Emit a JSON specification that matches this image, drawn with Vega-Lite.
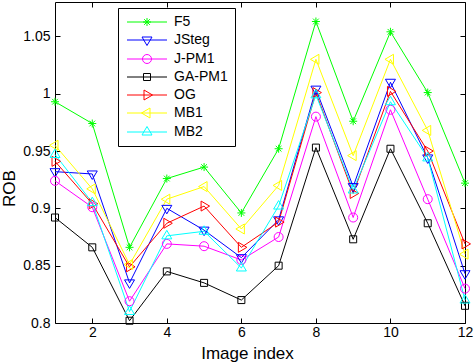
{
  "$schema": "https://vega.github.io/schema/vega-lite/v6.json",
  "width": 410,
  "height": 321,
  "autosize": "none",
  "padding": {"left": 55, "top": 2, "right": 9, "bottom": 39},
  "background": "white",
  "data": {"values": [
    {"x":1,"series":"F5","rob":0.993},{"x":2,"series":"F5","rob":0.974},{"x":3,"series":"F5","rob":0.866},{"x":4,"series":"F5","rob":0.926},{"x":5,"series":"F5","rob":0.936},{"x":6,"series":"F5","rob":0.896},{"x":7,"series":"F5","rob":0.952},{"x":8,"series":"F5","rob":1.063},{"x":9,"series":"F5","rob":0.976},{"x":10,"series":"F5","rob":1.054},{"x":11,"series":"F5","rob":1.001},{"x":12,"series":"F5","rob":0.922},
    {"x":1,"series":"JSteg","rob":0.932},{"x":2,"series":"JSteg","rob":0.930},{"x":3,"series":"JSteg","rob":0.835},{"x":4,"series":"JSteg","rob":0.900},{"x":5,"series":"JSteg","rob":0.881},{"x":6,"series":"JSteg","rob":0.857},{"x":7,"series":"JSteg","rob":0.890},{"x":8,"series":"JSteg","rob":1.004},{"x":9,"series":"JSteg","rob":0.919},{"x":10,"series":"JSteg","rob":1.010},{"x":11,"series":"JSteg","rob":0.944},{"x":12,"series":"JSteg","rob":0.843},
    {"x":1,"series":"J-PM1","rob":0.924},{"x":2,"series":"J-PM1","rob":0.901},{"x":3,"series":"J-PM1","rob":0.819},{"x":4,"series":"J-PM1","rob":0.869},{"x":5,"series":"J-PM1","rob":0.867},{"x":6,"series":"J-PM1","rob":0.855},{"x":7,"series":"J-PM1","rob":0.875},{"x":8,"series":"J-PM1","rob":0.980},{"x":9,"series":"J-PM1","rob":0.892},{"x":10,"series":"J-PM1","rob":0.986},{"x":11,"series":"J-PM1","rob":0.908},{"x":12,"series":"J-PM1","rob":0.830},
    {"x":1,"series":"GA-PM1","rob":0.892},{"x":2,"series":"GA-PM1","rob":0.866},{"x":3,"series":"GA-PM1","rob":0.802},{"x":4,"series":"GA-PM1","rob":0.845},{"x":5,"series":"GA-PM1","rob":0.835},{"x":6,"series":"GA-PM1","rob":0.820},{"x":7,"series":"GA-PM1","rob":0.850},{"x":8,"series":"GA-PM1","rob":0.953},{"x":9,"series":"GA-PM1","rob":0.873},{"x":10,"series":"GA-PM1","rob":0.952},{"x":11,"series":"GA-PM1","rob":0.887},{"x":12,"series":"GA-PM1","rob":0.815},
    {"x":1,"series":"OG","rob":0.941},{"x":2,"series":"OG","rob":0.904},{"x":3,"series":"OG","rob":0.849},{"x":4,"series":"OG","rob":0.887},{"x":5,"series":"OG","rob":0.902},{"x":6,"series":"OG","rob":0.866},{"x":7,"series":"OG","rob":0.888},{"x":8,"series":"OG","rob":1.001},{"x":9,"series":"OG","rob":0.913},{"x":10,"series":"OG","rob":1.002},{"x":11,"series":"OG","rob":0.950},{"x":12,"series":"OG","rob":0.869},
    {"x":1,"series":"MB1","rob":0.955},{"x":2,"series":"MB1","rob":0.917},{"x":3,"series":"MB1","rob":0.851},{"x":4,"series":"MB1","rob":0.908},{"x":5,"series":"MB1","rob":0.919},{"x":6,"series":"MB1","rob":0.882},{"x":7,"series":"MB1","rob":0.920},{"x":8,"series":"MB1","rob":1.030},{"x":9,"series":"MB1","rob":0.946},{"x":10,"series":"MB1","rob":1.030},{"x":11,"series":"MB1","rob":0.968},{"x":12,"series":"MB1","rob":0.860},
    {"x":1,"series":"MB2","rob":0.947},{"x":2,"series":"MB2","rob":0.905},{"x":3,"series":"MB2","rob":0.810},{"x":4,"series":"MB2","rob":0.876},{"x":5,"series":"MB2","rob":0.880},{"x":6,"series":"MB2","rob":0.848},{"x":7,"series":"MB2","rob":0.902},{"x":8,"series":"MB2","rob":0.999},{"x":9,"series":"MB2","rob":0.916},{"x":10,"series":"MB2","rob":0.993},{"x":11,"series":"MB2","rob":0.944},{"x":12,"series":"MB2","rob":0.820}
  ]},
  "resolve": {"axis": {"x": "independent", "y": "independent"}},
  "layer": [
    {
      "mark": {"type": "line", "strokeWidth": 1},
      "encoding": {
        "x": {"field": "x", "type": "quantitative",
              "scale": {"domain": [1, 12], "nice": false, "zero": false},
              "axis": {"values": [2,4,6,8,10,12], "format": "d", "title": "Image index", "labelPadding": 7, "titleY": 35, "titleX": 192, "titleBaseline": "alphabetic", "titleAnchor": "middle"}},
        "y": {"field": "rob", "type": "quantitative",
              "scale": {"domain": [0.8, 1.08], "nice": false, "zero": false},
              "axis": {"values": [0.8,0.85,0.9,0.95,1,1.05], "labelExpr": "'' + datum.value", "title": "ROB", "labelPadding": 10, "titleX": -37, "titleY": 186, "titleBaseline": "bottom", "titleAnchor": "middle"}},
        "color": {"field": "series", "type": "nominal",
                  "scale": {"domain": ["F5","JSteg","J-PM1","GA-PM1","OG","MB1","MB2"],
                            "range": ["#00ff00","#0000ff","#ff00ff","#000000","#ff0000","#ffff00","#00ffff"]},
                  "legend": {"orient": "none", "legendX": 63, "legendY": 6, "title": null, "strokeColor": "black", "fillColor": "white", "padding": 7, "symbolSize": 100, "labelOffset": 35, "labelFontSize": 14, "labelFont": "Liberation Sans", "labelColor": "black", "rowPadding": 4, "symbolStrokeWidth": 1,
                    "encode": {"symbols": {"update": {
                      "fill": {"value": "transparent"},
                      "shape": {"signal": "datum.value === 'F5' ? 'M-1,0H7M2.2,0H3.8M3,-0.8V0.8M2.43,-0.57L3.57,0.57M2.43,0.57L3.57,-0.57' : datum.value === 'JSteg' ? 'M-1,0H7M2,-0.6H4L3,1.1Z' : datum.value === 'J-PM1' ? 'M-1,0H7M2.1,0A0.9,0.9 0 1,0 3.9,0A0.9,0.9 0 1,0 2.1,0Z' : datum.value === 'GA-PM1' ? 'M-1,0H7M2.3,-0.7H3.7V0.7H2.3Z' : datum.value === 'OG' ? 'M-1,0H7M2.4,-1L4.1,0L2.4,1Z' : datum.value === 'MB1' ? 'M-1,0H7M3.6,-1L1.9,0L3.6,1Z' : 'M-1,0H7M2,0.6H4L3,-1.1Z'"}}}}}},
        "order": {"field": "x", "type": "quantitative"}
      }
    },
    {
      "mark": {"type": "point", "filled": false, "size": 100, "strokeWidth": 1, "opacity": 1},
      "encoding": {
        "x": {"field": "x", "type": "quantitative",
              "axis": {"orient": "top", "values": [2,4,6,8,10,12], "labels": false, "title": null}},
        "y": {"field": "rob", "type": "quantitative",
              "axis": {"orient": "right", "values": [0.8,0.85,0.9,0.95,1,1.05], "labels": false, "title": null}},
        "color": {"field": "series", "type": "nominal"},
        "shape": {"field": "series", "type": "nominal",
                  "scale": {"domain": ["MB2","F5","JSteg","J-PM1","GA-PM1","OG","MB1"],
                            "range": ["M-1,0.6H1L0,-1.1Z",
                                      "M-0.8,0H0.8M0,-0.8V0.8M-0.57,-0.57L0.57,0.57M-0.57,0.57L0.57,-0.57",
                                      "M-1,-0.6H1L0,1.1Z",
                                      "M-0.9,0A0.9,0.9 0 1,0 0.9,0A0.9,0.9 0 1,0 -0.9,0Z",
                                      "M-0.7,-0.7H0.7V0.7H-0.7Z",
                                      "M-0.6,-1L1.1,0L-0.6,1Z",
                                      "M0.6,-1L-1.1,0L0.6,1Z"]},
                  "legend": null}
      }
    }
  ],
  "config": {
    "view": {"stroke": null},
    "font": "Liberation Sans",
    "axis": {"domainColor": "black", "tickColor": "black", "labelColor": "black", "titleColor": "black",
             "labelFont": "Liberation Sans", "titleFont": "Liberation Sans", "labelFontSize": 14, "titleFontSize": 17,
             "titleFontWeight": "normal", "grid": false, "tickSize": -5, "domainWidth": 1, "tickWidth": 1, "labelFlush": false, "labelOverlap": false}
  }
}
